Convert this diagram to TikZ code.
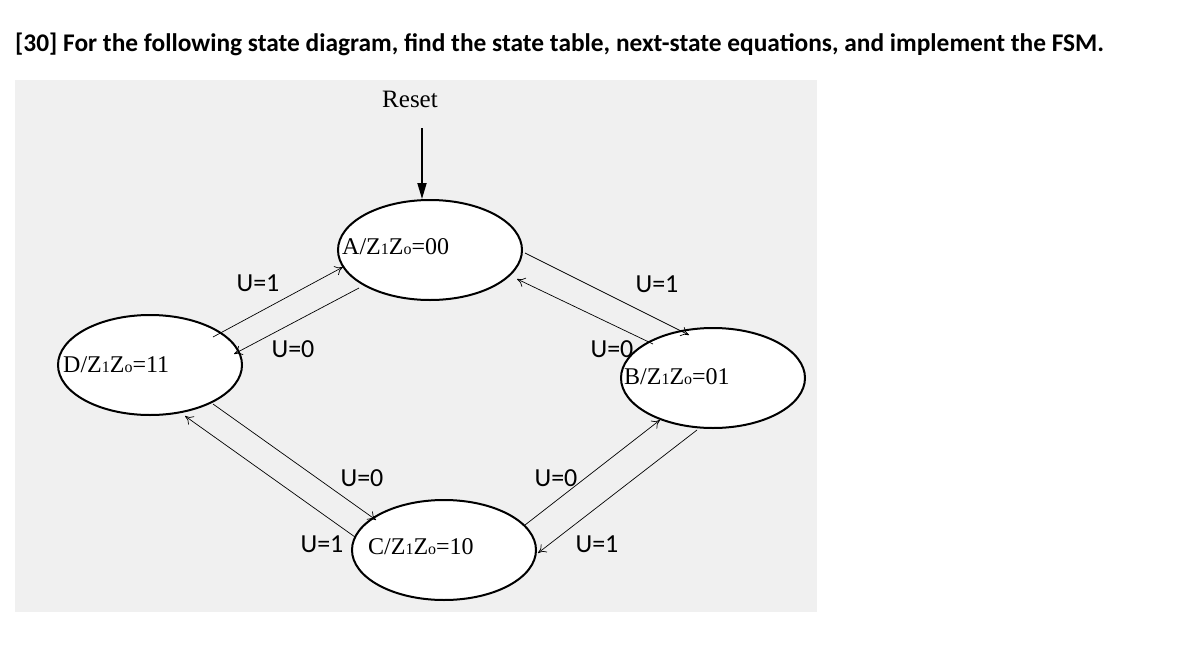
\documentclass[tikz,border=0pt]{standalone}
\usepackage{fontspec}
\setmainfont{Liberation Serif}
\newfontfamily\calfnt{Carlito}
\usetikzlibrary{shapes.geometric,arrows.meta}
\tikzset{
 st/.style={draw,ellipse,line width=2pt,fill=white,minimum width=184pt,minimum height=100pt,inner sep=0pt},
 tr/.style={-{To[length=8pt,width=10pt]},line width=0.7pt},
 lb/.style={font=\calfnt\fontsize{26}{28}\selectfont,inner sep=0pt},
 tx/.style={font=\fontsize{24}{26}\selectfont,inner sep=0pt,anchor=west}
}
\newcommand{\zz}[1]{#1/Z{\fontsize{16}{16}\selectfont 1}Z{\fontsize{16}{16}\selectfont o}}
\begin{document}
\begin{tikzpicture}[x=1pt,y=-1pt]
\useasboundingbox (0,0) rectangle (1195,648);
\fill[white] (0,0) rectangle (1195,648);
\fill[gray!12] (15,80) rectangle (817,612);
\node[anchor=west,inner sep=0pt,font=\calfnt\bfseries\fontsize{25.4}{28}\selectfont] (title) at (15,44) {[30] For the following state diagram, find the state table, next-state equations, and implement the FSM.};
\node[st] (A) at (430,250) {};
\node[st] (D) at (150,365) {};
\node[st] (B) at (713,378) {};
\node[st] (C) at (444,550) {};
\node[tx] (At) at (342,247) {\zz{A}=00};
\node[tx] (Dt) at (63,365) {\zz{D}=11};
\node[tx] (Bt) at (624,377) {\zz{B}=01};
\node[tx] (Ct) at (368,547) {\zz{C}=10};
\node[font=\fontsize{25}{26}\selectfont,inner sep=0pt] (reset) at (410,99) {Reset};
\coordinate (r0) at (422,128);
\draw[-{Triangle[length=16pt,width=9pt]},line width=1.8pt] (r0) -- (A.north -| r0);
\coordinate (da0) at (213,337); \coordinate (da1) at (343,267);
\coordinate (ad0) at (359,288); \coordinate (ad1) at (234,354);
\coordinate (ab0) at (525,253); \coordinate (ab1) at (689,335);
\coordinate (ba0) at (653,344); \coordinate (ba1) at (517,279);
\coordinate (dc0) at (213,404); \coordinate (dc1) at (376,520);
\coordinate (cd0) at (355,537); \coordinate (cd1) at (185,416);
\coordinate (cb0) at (525,525); \coordinate (cb1) at (660,420);
\coordinate (bc0) at (697,430); \coordinate (bc1) at (538,553);
\draw[tr] (da0) -- (da1);
\draw[tr] (ad0) -- (ad1);
\draw[tr] (ab0) -- (ab1);
\draw[tr] (ba0) -- (ba1);
\draw[tr] (dc0) -- (dc1);
\draw[tr] (cd0) -- (cd1);
\draw[tr] (cb0) -- (cb1);
\draw[tr] (bc0) -- (bc1);
\node[lb] (l1) at (258,283) {U=1};
\node[lb] (l2) at (293,349) {U=0};
\node[lb] (l3) at (657,284) {U=1};
\node[lb] (l4) at (612,349) {U=0};
\node[lb] (l5) at (362,478) {U=0};
\node[lb] (l6) at (556,478) {U=0};
\node[lb] (l7) at (322,544) {U=1};
\node[lb] (l8) at (597,544) {U=1};
\end{tikzpicture}
\end{document}
